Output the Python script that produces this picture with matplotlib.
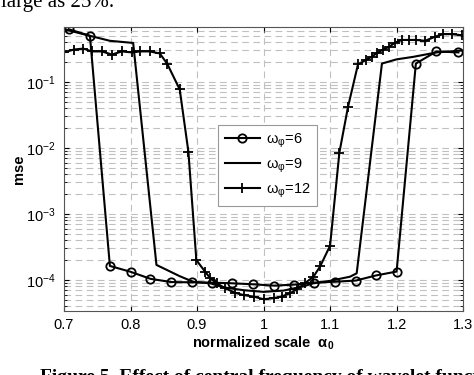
import numpy as np
import matplotlib
matplotlib.use("Agg")
import matplotlib.pyplot as plt

# omega_phi = 6 (circles)
w6_x = [0.707, 0.739, 0.769, 0.800, 0.830, 0.861, 0.893, 0.922, 0.953, 0.984,
        1.016, 1.046, 1.076, 1.108, 1.139, 1.169, 1.200, 1.229, 1.260, 1.293]
w6_y = [0.63, 0.50, 1.63e-4, 1.33e-4, 1.04e-4, 0.93e-4, 0.92e-4, 0.91e-4, 0.89e-4, 0.86e-4,
        0.82e-4, 0.85e-4, 0.91e-4, 0.94e-4, 0.98e-4, 1.17e-4, 1.34e-4, 0.19, 0.29, 0.28]

# omega_phi = 9 (plain line)
w9_x = [0.700, 0.739, 0.769, 0.804, 0.839, 0.859, 0.874, 0.894, 0.920, 0.940, 0.970,
        1.000, 1.030, 1.060, 1.075, 1.100, 1.130, 1.140, 1.178, 1.200, 1.225, 1.260, 1.300]
w9_y = [0.63, 0.50, 0.42, 0.39, 1.69e-4, 1.35e-4, 1.14e-4, 0.94e-4, 0.89e-4, 0.77e-4, 0.70e-4,
        0.66e-4, 0.69e-4, 0.80e-4, 0.89e-4, 0.97e-4, 1.12e-4, 1.26e-4, 0.19, 0.22, 0.24, 0.28, 0.30]

# omega_phi = 12 (plus markers)
w12_x = [0.700, 0.715, 0.729, 0.742, 0.757, 0.772, 0.787, 0.802, 0.814, 0.829, 0.844, 0.855,
         0.874, 0.887, 0.899, 0.912, 0.920, 0.930, 0.942, 0.957, 0.970, 0.985, 1.000, 1.015,
         1.027, 1.040, 1.050, 1.062, 1.075, 1.085, 1.100, 1.114, 1.127, 1.142, 1.154, 1.163,
         1.170, 1.179, 1.189, 1.198, 1.208, 1.218, 1.229, 1.243, 1.258, 1.270, 1.283, 1.298]
w12_y = [0.28, 0.31, 0.32, 0.29, 0.29, 0.26, 0.29, 0.28, 0.29, 0.29, 0.27, 0.19,
         0.077, 0.0088, 2.0e-4, 1.34e-4, 1.06e-4, 0.89e-4, 0.75e-4, 0.64e-4, 0.59e-4, 0.56e-4, 0.51e-4, 0.53e-4,
         0.56e-4, 0.63e-4, 0.72e-4, 0.89e-4, 1.12e-4, 1.6e-4, 3.3e-4, 0.0085, 0.042, 0.185, 0.215, 0.242,
         0.272, 0.306, 0.342, 0.395, 0.433, 0.433, 0.433, 0.42, 0.485, 0.53, 0.53, 0.51]

labels = [r'ω$_\mathregular{φ}$=6', r'ω$_\mathregular{φ}$=9', r'ω$_\mathregular{φ}$=12']
x_ticks = [0.7, 0.8, 0.9, 1.0, 1.1, 1.2, 1.3]
x_ticklabels = ['0.7', '0.8', '0.9', '1', '1.1', '1.2', '1.3']

plt.rcParams['font.family'] = ['Liberation Sans', 'DejaVu Sans']
plt.rcParams['mathtext.fontset'] = 'custom'
plt.rcParams['mathtext.rm'] = 'Liberation Sans'
plt.rcParams['mathtext.it'] = 'Liberation Sans:italic'

fig = plt.figure(figsize=(4.74, 3.75), dpi=100)
ax = fig.add_axes([0.135, 0.171, 0.842, 0.757])

ax.semilogy(w6_x, w6_y, color='black', lw=1.5, marker='o', ms=6,
            mfc='none', mec='black', mew=1.3, label=labels[0])
ax.semilogy(w9_x, w9_y, color='black', lw=1.5, label=labels[1])
ax.semilogy(w12_x, w12_y, color='black', lw=1.5, marker='+', ms=7,
            mew=1.3, label=labels[2])

ax.set_xlim(0.7, 1.3)
ax.set_ylim(3.4e-5, 0.68)
ax.set_xticks(x_ticks)
ax.set_xticklabels(x_ticklabels)

ax.grid(True, which='major', axis='both', color='#c0c0c0', ls='--', lw=0.8, dashes=(6, 4))
ax.grid(True, which='minor', axis='y', color='#c0c0c0', ls='--', lw=0.8, dashes=(6, 4))
ax.tick_params(which='both', direction='in', top=True, right=True, labelsize=10.5)
ax.tick_params(axis='x', pad=5)
ax.tick_params(axis='y', pad=6)
for s in ax.spines.values():
    s.set_color('#555555')
    s.set_linewidth(0.8)

ax.set_xlabel(r'normalized scale  α$_\mathregular{0}$', fontsize=10.5, fontweight='bold', labelpad=2)
ax.set_ylabel('mse', fontsize=10.5, fontweight='bold', labelpad=0)

leg = ax.legend(loc='upper left', bbox_to_anchor=(0.386, 0.655), borderaxespad=0,
                fontsize=10.5, handlelength=2.4, labelspacing=0.45, borderpad=0.45,
                handletextpad=0.45, fancybox=False, framealpha=1, edgecolor='#999999')
leg.get_frame().set_linewidth(0.8)

fig.text(0.003, 0.982, 'large as 25%.', family='Liberation Serif', fontsize=15, va='baseline')
fig.text(0.085, -0.018, 'Figure 5. Effect of central frequency of wavelet function',
         family='Liberation Serif', fontsize=14, fontweight='bold', va='baseline')

fig.savefig('out.png', dpi=100)
